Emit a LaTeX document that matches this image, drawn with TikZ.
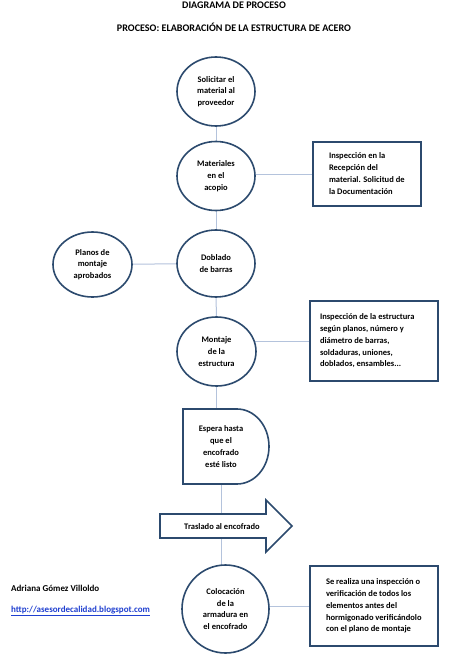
\documentclass[tikz,border=0pt]{standalone}
\usepackage{fontspec}
\setmainfont{Carlito}
\usetikzlibrary{shapes.geometric,backgrounds}
\definecolor{outl}{HTML}{2C4A6E}
\definecolor{linkcol}{HTML}{B4C3DC}
\definecolor{urlblue}{HTML}{1F3FD0}
\newcommand\boxlines[2]{\makebox[#1][l]{\begin{tabular}{@{}l@{}}#2\end{tabular}}}
\begin{document}
\begin{tikzpicture}[x=1pt,y=-1pt,
  every node/.style={font=\fontsize{8.5}{11.8}\selectfont\bfseries, inner sep=0pt},
  proc/.style={ellipse, draw=outl, line width=1.6pt, fill=white, minimum width=78pt, minimum height=69pt, align=center},
  note/.style={rectangle, draw=outl, line width=1.6pt, fill=white},
  outline/.style={draw=outl, line width=1.6pt, fill=white, line join=miter},
  link/.style={draw=linkcol, line width=1pt},
  titletext/.style={font=\fontsize{10.1}{12}\selectfont\bfseries}]
\useasboundingbox (0,0) rectangle (474,669);

% titles
\node[titletext] (t1) at (234,5) {DIAGRAMA DE PROCESO};
\node[titletext] (t2) at (234,27) {PROCESO: ELABORACIÓN DE LA ESTRUCTURA DE ACERO};

% process circles
\node[proc] (c1) at (216,91.5) {Solicitar el\\material al\\proveedor};
\node[proc] (c2) at (216,176) {Materiales\\en el\\acopio};
\node[proc, minimum height=67pt] (c3) at (216,263.5) {Doblado\\de barras};
\node[proc, minimum width=79pt, minimum height=65pt] (pl) at (92.5,264.5) {Planos de\\montaje\\aprobados};
\node[proc, minimum width=79pt] (c4) at (216.5,351.5) {Montaje\\de la\\estructura};
\node[proc, minimum width=87pt, minimum height=88pt] (c5) at (225.5,609) {Colocación\\de la\\armadura en\\el encofrado};

% inspection boxes
\node[note, minimum width=108pt, minimum height=64pt] (b1) at (367,174)
  {\boxlines{76pt}{Inspección en la\\Recepción del\\material. Solicitud de\\la Documentación}};
\node[note, minimum width=128pt, minimum height=80pt] (b2) at (374,341)
  {\boxlines{108pt}{Inspección de la estructura\\según planos, número y\\diámetro de barras,\\soldaduras, uniones,\\doblados, ensambles...}};
\node[note, minimum width=128pt, minimum height=80pt] (b3) at (374,606)
  {\boxlines{96pt}{Se realiza una inspección o\\verificación de todos los\\elementos antes del\\hormigonado verificándolo\\con el plano de montaje}};

% delay (D shape)
\draw[outline] (183,409) -- (237,409)
  arc[start angle=90, end angle=-90, x radius=32pt, y radius=37.5pt]
  -- (183,484) -- cycle;
\node[minimum height=75pt, align=center] (wait) at (221,446.5) {Espera hasta\\que el\\encofrado\\esté listo};

% transport arrow
\draw[outline] (160,514) -- (266,514) -- (266,500) -- (292,526)
  -- (266,552) -- (266,538) -- (160,538) -- cycle;
\node (tras) at (222,527) {Traslado al encofrado};

% author
\node[anchor=base west, font=\fontsize{9}{11}\selectfont\bfseries] (au) at (11,591.5) {Adriana Gómez Villoldo};
\node[anchor=base west, text=urlblue, font=\fontsize{9}{11}\selectfont\bfseries] (url) at (11,612.5) {\underline{http://asesordecalidad.blogspot.com}};

% connectors
\begin{scope}[on background layer]
\fill[white] (0,0) rectangle (474,669);
\draw[link] (c1) -- (c2);
\draw[link] (c2) -- (c3);
\draw[link] (c3) -- (c4);
\draw[link] (c4) -- (c4 |- wait);
\draw[link] (wait) -- (wait |- c5);
\draw[link] (b1.west) -- (b1.west -| c2);
\draw[link] (pl) -- (c3);
\draw[link] (b2.west) -- (b2.west -| c4);
\draw[link] (b3.west) -- (b3.west -| c5);
\end{scope}
\end{tikzpicture}
\end{document}
